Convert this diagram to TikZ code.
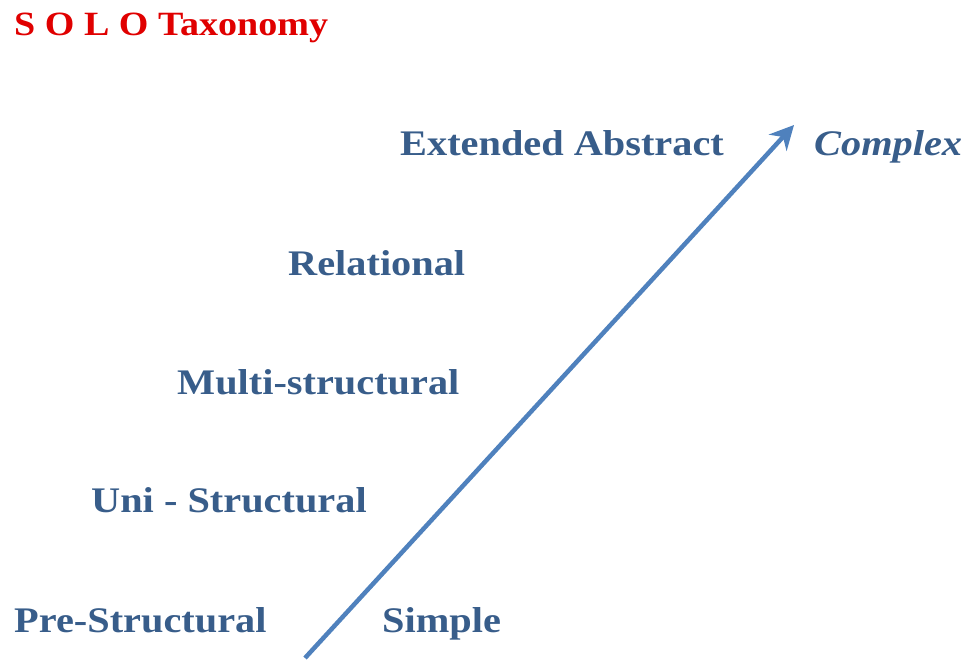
\documentclass[tikz,border=0pt]{standalone}
\usepackage{fontspec}
\usetikzlibrary{arrows.meta}
\setmainfont[FakeStretch=1.12]{Liberation Serif}
\definecolor{txt}{HTML}{385D8A}
\definecolor{arr}{HTML}{4F81BD}
\definecolor{ttl}{HTML}{E00000}
\begin{document}
\begin{tikzpicture}[x=1pt,y=-1pt,
  lvl/.style={anchor=base west,inner sep=0pt,text=txt,font=\fontsize{36}{40}\selectfont\bfseries}]
\useasboundingbox (0,0) rectangle (973,667);
\node[anchor=base west,inner sep=0pt,text=ttl,font=\fontsize{34}{38}\selectfont\bfseries] (t) at (14,35) {S O L O Taxonomy};
\node[lvl] (ea) at (400,155) {Extended Abstract};
\node[lvl,font=\fontsize{36}{40}\selectfont\bfseries\itshape] (cx) at (814,155) {Complex};
\node[lvl] (re) at (288,275) {Relational};
\node[lvl] (ms) at (177,394) {Multi-structural};
\node[lvl] (us) at (91,512) {Uni - Structural};
\node[lvl] (ps) at (14,632) {Pre-Structural};
\node[lvl] (si) at (382,632) {Simple};
\coordinate (a0) at (305,658);
\coordinate (a1) at (794,125);
\draw[arr,line width=4.5pt,-{Stealth[length=24pt,width=24pt]}] (a0) -- (a1);
\end{tikzpicture}
\end{document}
